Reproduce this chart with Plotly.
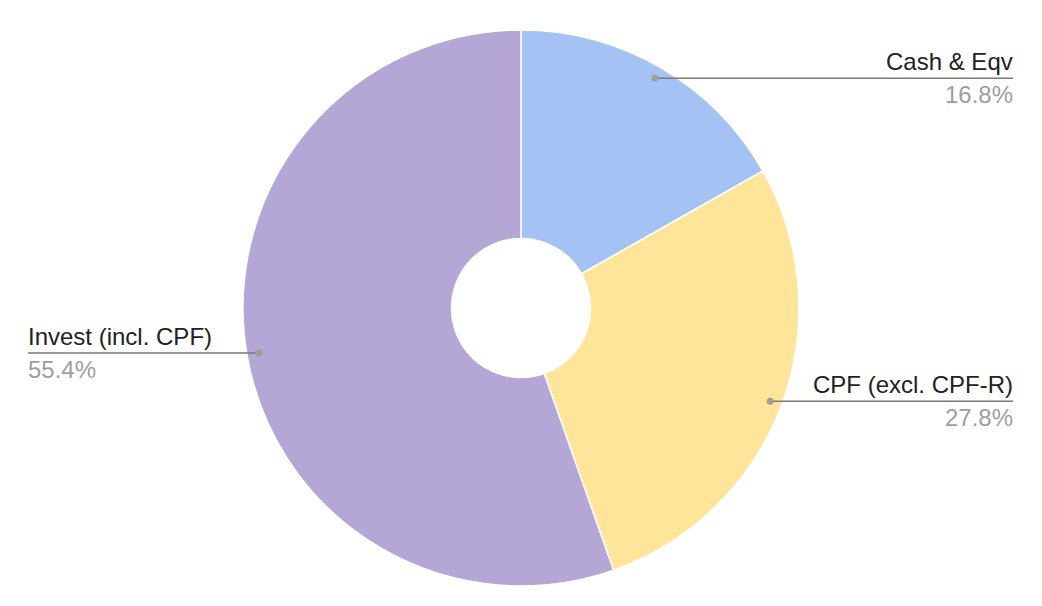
import math
import plotly.graph_objects as go

# slices, clockwise from 12 o'clock
labels = ["Cash & Eqv", "CPF (excl. CPF-R)", "Invest (incl. CPF)"]
values = [16.8, 27.8, 55.4]
colors = ["#a4c2f4", "#ffe599", "#b4a7d6"]
label_side = ["right", "right", "left"]

W, H = 1042, 606
cx, cy, R = 513, 300, 278   # pie centre / radius in px (page has 8px body margin)
dot_r = 0.957 * R            # where the leader line starts
left_x, right_x = 20, 1005   # label column edges


def px(x):
    return x / W


def py(y):
    return 1 - y / H


fig = go.Figure(go.Pie(
    labels=labels,
    values=values,
    marker=dict(colors=colors, line=dict(color="white", width=1.5)),
    hole=0.25,
    sort=False,
    direction="clockwise",
    rotation=0,
    textinfo="none",
    hoverinfo="label+percent",
    domain=dict(x=[px(cx - R), px(cx + R)], y=[py(cy + R), py(cy - R)]),
))

shapes = []
annotations = []
total = sum(values)
start = 0
for lab, val, side in zip(labels, values, label_side):
    mid = (start + val / 2) / total * 2 * math.pi
    start += val
    dx = cx + dot_r * math.sin(mid)
    dy = cy - dot_r * math.cos(mid)
    end_x = right_x if side == "right" else left_x
    shapes.append(dict(type="line", xref="paper", yref="paper",
                       x0=px(dx), y0=py(dy), x1=px(end_x), y1=py(dy),
                       line=dict(color="#7a7a7a", width=1.5)))
    shapes.append(dict(type="circle", xref="paper", yref="paper",
                       x0=px(dx - 3.5), x1=px(dx + 3.5),
                       y0=py(dy - 3.5), y1=py(dy + 3.5),
                       fillcolor="#9e9e9e", line=dict(width=0)))
    anchor = "right" if side == "right" else "left"
    shift = 2 if side == "right" else -2   # cancel annotation padding
    annotations.append(dict(text=lab, x=px(end_x), y=py(dy - 1),
                            xref="paper", yref="paper", showarrow=False,
                            xanchor=anchor, yanchor="bottom", xshift=shift,
                            font=dict(size=24, color="#222222")))
    annotations.append(dict(text=f"{val / total * 100:.1f}%", x=px(end_x),
                            y=py(dy + 1), xref="paper", yref="paper",
                            showarrow=False, xanchor=anchor, yanchor="top",
                            xshift=shift,
                            font=dict(size=24, color="#9e9e9e")))

fig.update_layout(
    width=W, height=H,
    margin=dict(l=0, r=0, t=0, b=0),
    paper_bgcolor="white",
    showlegend=False,
    font=dict(family="Liberation Sans, Arial, sans-serif"),
    shapes=shapes,
    annotations=annotations,
)

fig.write_html("out.html")
